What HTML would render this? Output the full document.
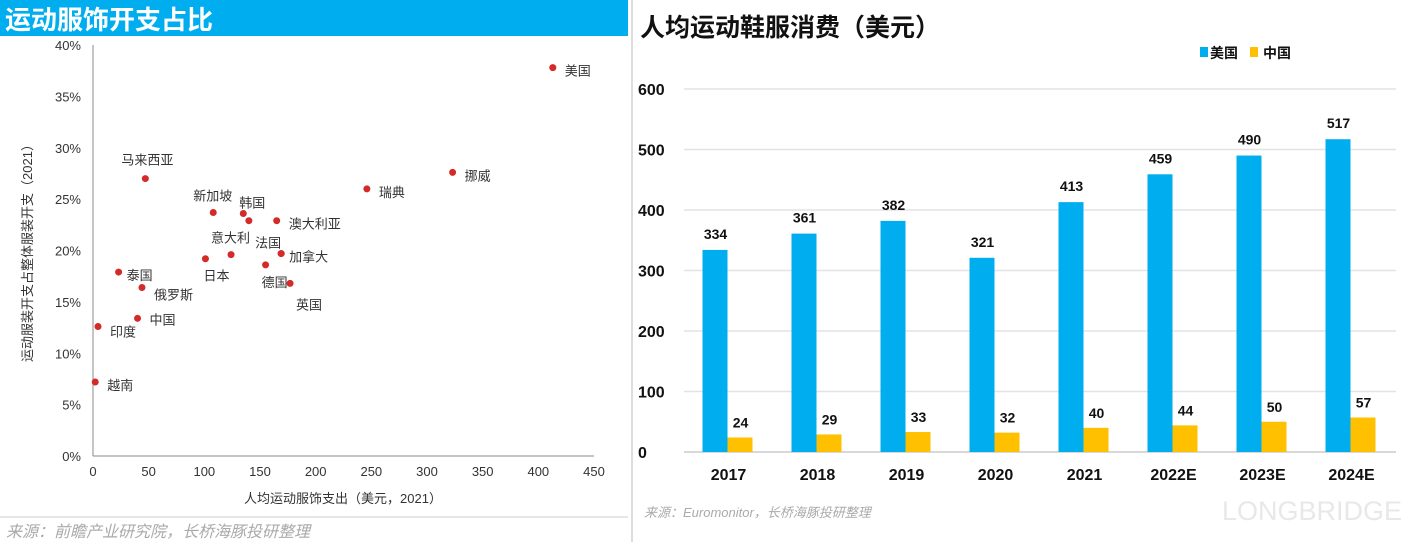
<!DOCTYPE html>
<html><head><meta charset="utf-8">
<style>
body{margin:0;width:1417px;height:542px;background:#fff;overflow:hidden;font-family:"Liberation Sans","Noto Sans CJK SC",sans-serif;}
svg{position:absolute;left:0;top:0}
</style></head>
<body>
<svg id="s" width="1417" height="542" xmlns="http://www.w3.org/2000/svg">
<rect x="0" y="0" width="628" height="36" fill="#00aeef"/>
<text x="5" y="29" font-size="26" font-weight="bold" fill="#fff" font-family="Liberation Sans, Noto Sans CJK SC, sans-serif">运动服饰开支占比</text>
<line x1="632" y1="0" x2="632" y2="542" stroke="#ddd" stroke-width="2"/>
<line x1="0" y1="517" x2="628" y2="517" stroke="#ccc"/>
<text x="6" y="537" font-size="16" font-style="italic" fill="#aaa">来源：前瞻产业研究院，长桥海豚投研整理</text>
<text x="640" y="36" font-size="25" font-weight="bold" fill="#111">人均运动鞋服消费（美元）</text>
<text x="644" y="517" font-size="13" font-style="italic" fill="#aaa">来源：Euromonitor，长桥海豚投研整理</text>
<text x="1222" y="520" font-size="27" fill="#e8e8e8">LONGBRIDGE</text>
<g id="left"></g>
<g id="right"></g>
</svg>
<script>
const NS="http://www.w3.org/2000/svg";
function mk(p,tag,at,txt){const e=document.createElementNS(NS,tag);for(const k in at)e.setAttribute(k,at[k]);if(txt!==undefined)e.textContent=txt;p.appendChild(e);return e;}

// scatter data
const countries=["美国","挪威","瑞典","马来西亚","新加坡","韩国","","澳大利亚","意大利","日本","法国","加拿大","德国","英国","泰国","俄罗斯","中国","印度","越南"];
const spend=[413,323,246,47,108,135,140,165,124,101,169,169,155,177,23,44,40,4.5,2];
const share=[37.8,27.6,26.0,27.0,23.7,23.6,22.9,22.9,19.6,19.2,19.7,19.7,18.6,16.8,17.9,16.4,13.4,12.6,7.2];
const xTicks=[0,50,100,150,200,250,300,350,400,450];
const yTicks=[0,5,10,15,20,25,30,35,40];
const labelOff=[[12,8],[12,8],[12,8],[-24,-14],[-20,-12],[-4,-6],[0,0],[12,8],[-20,-12],[-2,22],[-26,-6],[8,8],[-4,22],[6,26],[8,8],[12,12],[12,6],[12,10],[12,8]];

const L=document.getElementById('left');
const sx=v=>93+v/450*501, sy=v=>456-v/40*411;
mk(L,'line',{x1:93,y1:45,x2:93,y2:456,stroke:'#888',});
mk(L,'line',{x1:93,y1:456,x2:594,y2:456,stroke:'#888',});
xTicks.forEach(t=>{const e=mk(L,'text',{x:sx(t),y:476,'font-size':13,fill:'#333','text-anchor':'middle'},t);

});
yTicks.forEach(t=>{const e=mk(L,'text',{x:81,y:sy(t)+5,'font-size':13,fill:'#333','text-anchor':'end'},t+'%');

});
let xt=mk(L,'text',{x:343,y:503,'font-size':13,fill:'#333','text-anchor':'middle'},'人均运动服饰支出（美元，2021）');


let yt=mk(L,'text',{x:0,y:0,'font-size':13,fill:'#333','text-anchor':'middle',transform:'translate(32,250) rotate(-90)'},'运动服装开支占整体服装开支（2021）');


spend.forEach((v,i)=>{const c=mk(L,'circle',{cx:sx(v),cy:sy(share[i]),r:3.5,fill:'#d42a2a'});


if(countries[i]){const t=mk(L,'text',{x:sx(v)+labelOff[i][0],y:sy(share[i])+labelOff[i][1],'font-size':13,fill:'#333'},countries[i]);

}});

// bar data
const years=["2017","2018","2019","2020","2021","2022E","2023E","2024E"];
const usa=[334,361,382,321,413,459,490,517];
const china=[24,29,33,32,40,44,50,57];
const barTicks=[0,100,200,300,400,500,600];
const R=document.getElementById('right');
const bx0=684,bw=89, by=v=>452-v/600*363;
barTicks.forEach(t=>{if(t>0){const g=mk(R,'line',{x1:684,y1:by(t),x2:1396,y2:by(t),stroke:'#e3e3e3','stroke-width':1.5});

}
const e=mk(R,'text',{x:638,y:by(t)+6,'font-size':16,'font-weight':'bold',fill:'#111'},t);

});
const ax=mk(R,'line',{x1:684,y1:452,x2:1396,y2:452,stroke:'#ccc','stroke-width':1.5});


years.forEach((y,i)=>{const c=bx0+bw*i+bw/2;
const b1=mk(R,'rect',{x:c-26,y:by(usa[i]),width:25,height:452-by(usa[i]),fill:'#00aeef'});


const b2=mk(R,'rect',{x:c-1,y:by(china[i]),width:25,height:452-by(china[i]),fill:'#ffc000'});


const l1=mk(R,'text',{x:c-13,y:by(usa[i])-11,'font-size':14,'font-weight':'bold',fill:'#111','text-anchor':'middle'},usa[i]);


const l2=mk(R,'text',{x:c+12,y:by(china[i])-10,'font-size':14,'font-weight':'bold',fill:'#111','text-anchor':'middle'},china[i]);


const xl=mk(R,'text',{x:c,y:480,'font-size':16,'font-weight':'bold',fill:'#111','text-anchor':'middle'},y);

});
// legend
const lg=mk(R,'g',{});


mk(lg,'rect',{x:1200,y:47,width:8,height:10,fill:'#00aeef'});
mk(lg,'text',{x:1210,y:58,'font-size':14,'font-weight':'bold',fill:'#111'},'美国');
mk(lg,'rect',{x:1250,y:47,width:8,height:10,fill:'#ffc000'});
mk(lg,'text',{x:1263,y:58,'font-size':14,'font-weight':'bold',fill:'#111'},'中国');
</script>
</body></html>
